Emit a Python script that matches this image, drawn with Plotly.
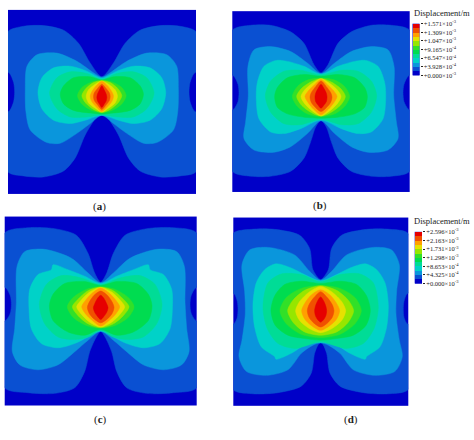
import plotly.graph_objects as go

# --- 1. Values ---

band_colors = ["#0a50d2", "#0a96dc", "#00d2c8", "#00dc96", "#00dc50", "#32e028",
               "#96e600", "#e6e100", "#ffa000", "#f05000", "#e60000"]
background_color = "#0000c8"

# contour outlines, right half only (x, y), top notch to bottom notch
panel_a_bands = [
    [(305,222),(340,180),(375,120),(420,80),(480,66),(540,68),(588,85),(600,200),(582,212),(570,240),(567,269),(570,298),(582,326),(600,338),(588,512),(540,525),(480,528),(420,510),(385,470),(355,400),(320,345),(305,338)],
    [(305,224),(330,210),(380,175),(440,150),(500,155),(530,190),(535,260),(533,330),(520,385),(470,423),(430,425),(380,395),(340,365),(305,340)],
    [(305,226),(350,205),(400,190),(450,195),(485,225),(497,270),(485,320),(450,355),(400,365),(355,355),(305,340)],
    [(305,230),(350,212),(400,207),(440,225),(462,272),(440,320),(400,345),(350,345),(305,338)],
    [(305,232),(340,222),(390,225),(420,250),(430,275),(420,305),(390,325),(340,333),(305,336)],
    [(305,233),(335,238),(365,255),(378,280),(365,305),(335,325),(305,332)],
    [(305,234),(330,240),(353,258),(365,280),(353,303),(330,322),(305,331)],
    [(305,235),(325,245),(345,262),(352,282),(345,302),(325,318),(305,330)],
    [(305,236),(322,250),(335,268),(340,282),(335,298),(322,314),(305,328)],
    [(305,245),(318,258),(328,272),(330,282),(328,294),(318,308),(305,322)],
    [(305,250),(312,262),(318,275),(320,285),(318,296),(312,306),(305,316)],
]
panel_b_bands = [
    [(279,210),(300,185),(330,120),(370,85),(430,65),(490,65),(545,80),(557,210),(540,220),(528,245),(525,270),(528,298),(540,320),(557,333),(545,510),(490,525),(430,525),(370,510),(330,470),(310,420),(295,375),(279,355)],
    [(279,212),(320,180),(370,145),(430,130),(480,140),(498,190),(497,280),(505,360),(510,410),(480,445),(420,452),(370,435),(320,395),(279,356)],
    [(279,214),(330,190),(380,175),(413,172),(450,190),(470,240),(473,290),(465,350),(430,390),(390,395),(340,380),(279,354)],
    [(279,216),(340,202),(390,205),(430,235),(446,280),(430,330),(390,365),(340,368),(279,352)],
    [(279,220),(330,215),(380,225),(410,255),(418,282),(410,315),(380,335),(330,345),(279,348)],
    [(279,226),(320,232),(350,252),(365,282),(350,312),(320,335),(279,343)],
    [(279,227),(310,238),(338,258),(352,282),(338,308),(310,330),(279,342)],
    [(279,228),(305,242),(328,262),(339,282),(328,304),(305,326),(279,341)],
    [(279,230),(300,248),(318,266),(327,282),(318,300),(300,322),(279,338)],
    [(279,235),(295,252),(308,270),(312,284),(308,300),(295,316),(279,328)],
    [(279,245),(288,258),(295,272),(297,284),(295,298),(288,308),(279,318)],
]
panel_c_bands = [
    [(302,218),(320,190),(340,130),(375,75),(440,55),(520,52),(590,68),(602,225),(585,237),(573,260),(570,285),(573,312),(585,333),(602,345),(590,540),(520,555),(440,557),(380,540),(350,490),(335,430),(315,385),(302,368)],
    [(302,220),(340,190),(390,145),(470,118),(530,125),(553,170),(555,280),(560,360),(567,430),(545,470),(490,485),(430,470),(380,430),(340,395),(302,368)],
    [(302,222),(350,200),(400,180),(445,165),(450,180),(490,195),(515,240),(517,300),(510,360),(480,405),(430,418),(380,405),(340,385),(302,367)],
    [(302,225),(360,205),(420,198),(465,225),(486,285),(470,345),(430,385),(380,393),(340,385),(302,365)],
    [(302,228),(350,216),(410,222),(445,255),(456,290),(445,335),(400,370),(350,380),(302,362)],
    [(302,232),(345,240),(385,265),(402,293),(385,325),(345,350),(302,358)],
    [(302,233),(340,244),(370,270),(387,293),(370,320),(340,345),(302,357)],
    [(302,234),(335,248),(360,272),(374,293),(360,316),(335,340),(302,355)],
    [(302,236),(328,252),(348,274),(359,293),(348,314),(328,334),(302,352)],
    [(302,245),(322,258),(336,278),(342,295),(336,314),(322,330),(302,342)],
    [(302,258),(312,268),(320,284),(324,296),(320,310),(312,322),(302,332)],
]
panel_d_bands = [
    [(362,195),(385,165),(395,100),(425,60),(500,42),(570,42),(625,55),(637,228),(620,240),(612,262),(610,285),(612,310),(620,328),(637,340),(625,530),(570,543),(490,540),(420,520),(390,480),(380,420),(370,395),(362,388)],
    [(362,197),(395,170),(440,120),(520,97),(575,105),(598,150),(590,230),(588,300),(598,380),(607,430),(585,475),(525,487),(460,470),(420,420),(385,395),(362,388)],
    [(362,199),(410,180),(450,160),(496,147),(530,165),(555,205),(565,270),(560,340),(540,400),(500,430),(496,438),(450,420),(410,395),(362,387)],
    [(362,202),(420,180),(480,178),(520,205),(535,280),(522,345),(490,390),(440,405),(400,395),(362,385)],
    [(362,207),(420,200),(470,210),(500,245),(511,290),(498,335),(460,365),(410,375),(362,380)],
    [(362,213),(420,222),(465,250),(484,290),(465,330),(420,362),(362,372)],
    [(362,214),(410,228),(445,258),(461,290),(445,325),(410,355),(362,365)],
    [(362,216),(395,232),(425,262),(437,290),(425,320),(395,345),(362,357)],
    [(362,226),(390,242),(410,268),(419,290),(410,315),(390,335),(362,350)],
    [(362,232),(382,250),(397,272),(402,290),(397,310),(382,328),(362,340)],
    [(362,248),(372,262),(378,278),(380,290),(378,304),(372,316),(362,325)],
]

top_tick_text = ["+1.571×10<sup>-3</sup>", "+1.309×10<sup>-3</sup>", "+1.047×10<sup>-3</sup>",
                 "+9.165×10<sup>-4</sup>", "+6.547×10<sup>-4</sup>", "+3.928×10<sup>-4</sup>",
                 "+0.000×10<sup>-3</sup>"]
bottom_tick_text = ["+2.596×10<sup>-3</sup>", "+2.163×10<sup>-3</sup>", "+1.731×10<sup>-3</sup>",
                    "+1.298×10<sup>-3</sup>", "+8.653×10<sup>-4</sup>", "+4.325×10<sup>-4</sup>",
                    "+0.000×10<sup>-3</sup>"]
legend_levels = [0, 2, 4, 6, 8, 10, 12]
legend_colors = [background_color] + band_colors

# --- 2. Layout helpers (pixels of the 474x440 page) ---

W, H = 474, 440


def dom_x(left, right):
    return [left / W, right / W]


def dom_y(top, bottom):
    return [1 - bottom / H, 1 - top / H]


fig = go.Figure()

# name, bands, axis ranges, pixel box (left, right, top, bottom)
panels = [
    ("", panel_a_bands, [23, 588], [580, 18], (8, 196, 6, 193)),
    ("2", panel_b_bands, [13, 545], [573, 22], (232.3, 409.7, 7.3, 191)),
    ("3", panel_c_bands, [14, 590], [594, 18], (4.7, 196.7, 216, 408)),
    ("4", panel_d_bands, [100, 625], [580, 6], (233.3, 408.3, 217, 408.3)),
]

for suffix, bands, x_range, y_range, box in panels:
    centre = bands[0][0][0]
    for band, color in zip(bands, band_colors):
        right_x = [p[0] for p in band]
        right_y = [p[1] for p in band]
        left_x = [2 * centre - x for x in reversed(right_x)]
        left_y = list(reversed(right_y))
        fig.add_trace(go.Scatter(x=right_x + left_x[1:], y=right_y + left_y[1:],
                                 mode="lines", fill="toself", fillcolor=color,
                                 line=dict(color=color, width=0.5, shape="spline", smoothing=0.8),
                                 hoverinfo="skip", showlegend=False,
                                 xaxis="x" + suffix, yaxis="y" + suffix))
    fig.update_layout({
        "xaxis" + suffix: dict(domain=dom_x(box[0], box[1]), range=x_range, visible=False,
                               anchor="y" + suffix),
        "yaxis" + suffix: dict(domain=dom_y(box[2], box[3]), range=y_range, visible=False,
                               anchor="x" + suffix),
    })

# --- 3. Colour keys as stacked bars ---

keys = [
    ("5", top_tick_text, (412.5, 419.5, 20, 72.5)),
    ("6", bottom_tick_text, (414.7, 422, 231.5, 284)),
]
for suffix, tick_text, box in keys:
    for color in legend_colors:
        fig.add_trace(go.Bar(x=["key"], y=[1], marker=dict(color=color, line_width=0),
                             width=1, hoverinfo="skip", showlegend=False,
                             xaxis="x" + suffix, yaxis="y" + suffix))
    fig.update_layout({
        "xaxis" + suffix: dict(domain=dom_x(box[0], box[1]), visible=False,
                               anchor="y" + suffix, range=[-0.5, 0.5]),
        "yaxis" + suffix: dict(domain=dom_y(box[2], box[3]), range=[0, 12], side="right",
                               anchor="x" + suffix, tickvals=legend_levels,
                               ticktext=list(reversed(tick_text)),
                               ticks="outside", ticklen=2, tickwidth=0.5, tickcolor="#222222",
                               tickfont=dict(family="Liberation Serif", size=6.5, color="#222222"),
                               showgrid=False, zeroline=False, showline=False),
    })

# --- 4. Texts ---

labels = [
    dict(x=99, y=206, text="(<b>a</b>)", size=11),
    dict(x=320, y=205, text="(<b>b</b>)", size=11),
    dict(x=100, y=422, text="(<b>c</b>)", size=11),
    dict(x=351, y=422, text="(<b>d</b>)", size=11),
    dict(x=442, y=9, text="Displacement/m", size=8.5),
    dict(x=442, y=220.5, text="Displacement/m", size=8.5),
]
for lab in labels:
    fig.add_annotation(x=lab["x"] / W, y=1 - lab["y"] / H, xref="paper", yref="paper",
                       text=lab["text"], showarrow=False, xanchor="center", yanchor="middle",
                       font=dict(family="Liberation Serif", size=lab["size"], color="#222222"))

fig.update_layout(width=W, height=H, margin=dict(l=0, r=0, t=0, b=0), autosize=False,
                  barmode="stack", bargap=0, plot_bgcolor=background_color,
                  paper_bgcolor="white", showlegend=False)

# browser default body margin would push the figure off the page
fig.write_html("out.html", config={"displayModeBar": False},
               post_script="document.body.style.margin = '0';")
